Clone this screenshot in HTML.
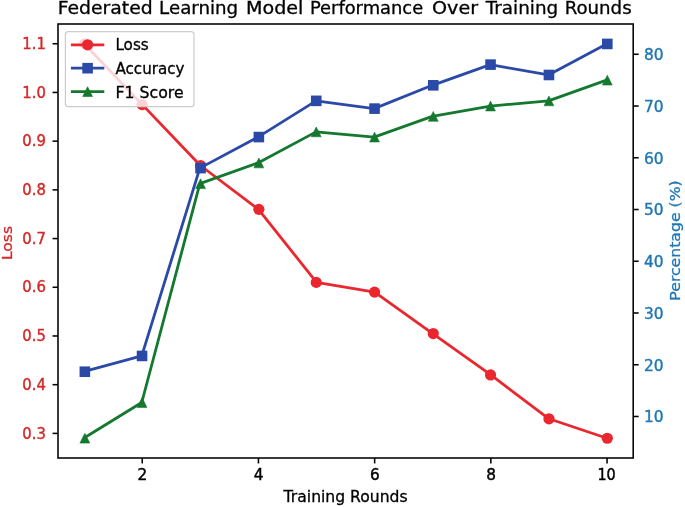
<!DOCTYPE html>
<html lang="en"><head><meta charset="utf-8"><title>Federated Learning Model Performance Over Training Rounds</title>
<style>html,body{margin:0;padding:0;background:#fff;overflow:hidden}svg{display:block;filter:blur(0.25px);font-family:"DejaVu Sans","Liberation Sans",sans-serif}</style></head><body>
<svg width="685" height="507" viewBox="0 0 685 507">
<rect width="685" height="507" fill="#fff"/>
<text x="57.70" y="13.9" font-size="17.5" textLength="95.05" lengthAdjust="spacingAndGlyphs" fill="#000" stroke="#000" stroke-width="0.3">Federated</text>
<text x="159.10" y="13.9" font-size="17.5" textLength="79.10" lengthAdjust="spacingAndGlyphs" fill="#000" stroke="#000" stroke-width="0.3">Learning</text>
<text x="246.10" y="13.9" font-size="17.5" textLength="57.30" lengthAdjust="spacingAndGlyphs" fill="#000" stroke="#000" stroke-width="0.3">Model</text>
<text x="309.90" y="13.9" font-size="17.5" textLength="113.30" lengthAdjust="spacingAndGlyphs" fill="#000" stroke="#000" stroke-width="0.3">Performance</text>
<text x="432.00" y="13.9" font-size="17.5" textLength="46.10" lengthAdjust="spacingAndGlyphs" fill="#000" stroke="#000" stroke-width="0.3">Over</text>
<text x="485.80" y="13.9" font-size="17.5" textLength="72.40" lengthAdjust="spacingAndGlyphs" fill="#000" stroke="#000" stroke-width="0.3">Training</text>
<text x="564.65" y="13.9" font-size="17.5" textLength="67.00" lengthAdjust="spacingAndGlyphs" fill="#000" stroke="#000" stroke-width="0.3">Rounds</text>
<polyline points="84.15,43.73 142.25,104.61 200.35,165.50 258.45,209.34 316.55,282.40 374.65,292.14 432.75,333.55 490.85,374.95 548.95,418.79 607.05,438.27" fill="none" stroke="#ea272e" stroke-width="2.8" stroke-linejoin="round" stroke-linecap="butt"/>
<circle cx="84.85" cy="43.73" r="5.60" fill="#ea272e"/>
<circle cx="142.05" cy="104.61" r="5.60" fill="#ea272e"/>
<circle cx="200.55" cy="165.50" r="5.60" fill="#ea272e"/>
<circle cx="258.85" cy="209.34" r="5.60" fill="#ea272e"/>
<circle cx="316.25" cy="282.40" r="5.60" fill="#ea272e"/>
<circle cx="374.55" cy="292.14" r="5.60" fill="#ea272e"/>
<circle cx="433.25" cy="333.55" r="5.60" fill="#ea272e"/>
<circle cx="490.55" cy="374.95" r="5.60" fill="#ea272e"/>
<circle cx="548.95" cy="418.79" r="5.60" fill="#ea272e"/>
<circle cx="607.30" cy="438.27" r="5.60" fill="#ea272e"/>
<polyline points="83.65,371.72 141.75,355.94 199.85,168.11 257.95,137.07 316.05,100.85 374.15,108.61 432.25,85.32 490.35,64.62 548.45,74.97 606.55,43.93" fill="none" stroke="#2b4aa8" stroke-width="2.8" stroke-linejoin="round" stroke-linecap="butt"/>
<rect x="79.55" y="366.42" width="10.60" height="10.60" fill="#2b4aa8"/>
<rect x="136.75" y="350.64" width="10.60" height="10.60" fill="#2b4aa8"/>
<rect x="195.25" y="162.81" width="10.60" height="10.60" fill="#2b4aa8"/>
<rect x="253.55" y="131.77" width="10.60" height="10.60" fill="#2b4aa8"/>
<rect x="310.95" y="95.55" width="10.60" height="10.60" fill="#2b4aa8"/>
<rect x="369.25" y="103.31" width="10.60" height="10.60" fill="#2b4aa8"/>
<rect x="427.95" y="80.02" width="10.60" height="10.60" fill="#2b4aa8"/>
<rect x="485.25" y="59.32" width="10.60" height="10.60" fill="#2b4aa8"/>
<rect x="543.65" y="69.67" width="10.60" height="10.60" fill="#2b4aa8"/>
<rect x="602.00" y="38.63" width="10.60" height="10.60" fill="#2b4aa8"/>
<polyline points="83.65,438.21 141.75,402.51 199.85,183.64 257.95,162.94 316.05,131.89 374.15,137.07 432.25,116.37 490.35,106.02 548.45,100.85 606.55,80.15" fill="none" stroke="#14782f" stroke-width="2.8" stroke-linejoin="round" stroke-linecap="butt"/>
<polygon points="84.85,433.31 79.95,443.11 89.75,443.11" fill="#14782f" stroke="#14782f" stroke-width="0.6" stroke-linejoin="round"/>
<polygon points="142.05,397.61 137.15,407.41 146.95,407.41" fill="#14782f" stroke="#14782f" stroke-width="0.6" stroke-linejoin="round"/>
<polygon points="200.55,178.74 195.65,188.54 205.45,188.54" fill="#14782f" stroke="#14782f" stroke-width="0.6" stroke-linejoin="round"/>
<polygon points="258.85,158.04 253.95,167.84 263.75,167.84" fill="#14782f" stroke="#14782f" stroke-width="0.6" stroke-linejoin="round"/>
<polygon points="316.25,126.99 311.35,136.79 321.15,136.79" fill="#14782f" stroke="#14782f" stroke-width="0.6" stroke-linejoin="round"/>
<polygon points="374.55,132.17 369.65,141.97 379.45,141.97" fill="#14782f" stroke="#14782f" stroke-width="0.6" stroke-linejoin="round"/>
<polygon points="433.25,111.47 428.35,121.27 438.15,121.27" fill="#14782f" stroke="#14782f" stroke-width="0.6" stroke-linejoin="round"/>
<polygon points="490.55,101.12 485.65,110.92 495.45,110.92" fill="#14782f" stroke="#14782f" stroke-width="0.6" stroke-linejoin="round"/>
<polygon points="548.95,95.95 544.05,105.75 553.85,105.75" fill="#14782f" stroke="#14782f" stroke-width="0.6" stroke-linejoin="round"/>
<polygon points="607.30,75.25 602.40,85.05 612.20,85.05" fill="#14782f" stroke="#14782f" stroke-width="0.6" stroke-linejoin="round"/>
<rect x="58.0" y="24.0" width="575.20" height="434.0" fill="none" stroke="#000" stroke-width="1.55"/>
<line x1="142.25" y1="458.0" x2="142.25" y2="463.45" stroke="#000" stroke-width="1.55"/>
<text x="142.45" y="479.70" font-size="15.0" text-anchor="middle" textLength="9.73" lengthAdjust="spacingAndGlyphs" fill="#000" stroke="#000" stroke-width="0.45">2</text>
<line x1="258.45" y1="458.0" x2="258.45" y2="463.45" stroke="#000" stroke-width="1.55"/>
<text x="258.65" y="479.70" font-size="15.0" text-anchor="middle" textLength="9.73" lengthAdjust="spacingAndGlyphs" fill="#000" stroke="#000" stroke-width="0.45">4</text>
<line x1="374.65" y1="458.0" x2="374.65" y2="463.45" stroke="#000" stroke-width="1.55"/>
<text x="374.85" y="479.70" font-size="15.0" text-anchor="middle" textLength="9.73" lengthAdjust="spacingAndGlyphs" fill="#000" stroke="#000" stroke-width="0.45">6</text>
<line x1="490.85" y1="458.0" x2="490.85" y2="463.45" stroke="#000" stroke-width="1.55"/>
<text x="491.05" y="479.70" font-size="15.0" text-anchor="middle" textLength="9.73" lengthAdjust="spacingAndGlyphs" fill="#000" stroke="#000" stroke-width="0.45">8</text>
<line x1="607.05" y1="458.0" x2="607.05" y2="463.45" stroke="#000" stroke-width="1.55"/>
<text x="606.55" y="479.70" font-size="15.0" text-anchor="middle" textLength="18.32" lengthAdjust="spacingAndGlyphs" fill="#000" stroke="#000" stroke-width="0.45">10</text>
<line x1="58.0" y1="433.40" x2="52.55" y2="433.40" stroke="#000" stroke-width="1.55"/>
<text x="45.90" y="438.60" font-size="15.0" text-anchor="end" textLength="23.53" lengthAdjust="spacingAndGlyphs" fill="#d62728" stroke="#d62728" stroke-width="0.4">0.3</text>
<line x1="58.0" y1="384.69" x2="52.55" y2="384.69" stroke="#000" stroke-width="1.55"/>
<text x="45.90" y="389.89" font-size="15.0" text-anchor="end" textLength="23.53" lengthAdjust="spacingAndGlyphs" fill="#d62728" stroke="#d62728" stroke-width="0.4">0.4</text>
<line x1="58.0" y1="335.98" x2="52.55" y2="335.98" stroke="#000" stroke-width="1.55"/>
<text x="45.90" y="341.18" font-size="15.0" text-anchor="end" textLength="23.53" lengthAdjust="spacingAndGlyphs" fill="#d62728" stroke="#d62728" stroke-width="0.4">0.5</text>
<line x1="58.0" y1="287.27" x2="52.55" y2="287.27" stroke="#000" stroke-width="1.55"/>
<text x="45.90" y="292.47" font-size="15.0" text-anchor="end" textLength="23.53" lengthAdjust="spacingAndGlyphs" fill="#d62728" stroke="#d62728" stroke-width="0.4">0.6</text>
<line x1="58.0" y1="238.56" x2="52.55" y2="238.56" stroke="#000" stroke-width="1.55"/>
<text x="45.90" y="243.76" font-size="15.0" text-anchor="end" textLength="23.53" lengthAdjust="spacingAndGlyphs" fill="#d62728" stroke="#d62728" stroke-width="0.4">0.7</text>
<line x1="58.0" y1="189.86" x2="52.55" y2="189.86" stroke="#000" stroke-width="1.55"/>
<text x="45.90" y="195.06" font-size="15.0" text-anchor="end" textLength="23.53" lengthAdjust="spacingAndGlyphs" fill="#d62728" stroke="#d62728" stroke-width="0.4">0.8</text>
<line x1="58.0" y1="141.15" x2="52.55" y2="141.15" stroke="#000" stroke-width="1.55"/>
<text x="45.90" y="146.35" font-size="15.0" text-anchor="end" textLength="23.53" lengthAdjust="spacingAndGlyphs" fill="#d62728" stroke="#d62728" stroke-width="0.4">0.9</text>
<line x1="58.0" y1="92.44" x2="52.55" y2="92.44" stroke="#000" stroke-width="1.55"/>
<text x="45.90" y="97.64" font-size="15.0" text-anchor="end" textLength="23.53" lengthAdjust="spacingAndGlyphs" fill="#d62728" stroke="#d62728" stroke-width="0.4">1.0</text>
<line x1="58.0" y1="43.73" x2="52.55" y2="43.73" stroke="#000" stroke-width="1.55"/>
<text x="45.90" y="48.93" font-size="15.0" text-anchor="end" textLength="23.53" lengthAdjust="spacingAndGlyphs" fill="#d62728" stroke="#d62728" stroke-width="0.4">1.1</text>
<line x1="633.2" y1="416.48" x2="638.6500000000001" y2="416.48" stroke="#000" stroke-width="1.55"/>
<text x="643.90" y="422.38" font-size="15.0" text-anchor="start" textLength="19.60" lengthAdjust="spacingAndGlyphs" fill="#1f77b4" stroke="#1f77b4" stroke-width="0.4">10</text>
<line x1="633.2" y1="364.74" x2="638.6500000000001" y2="364.74" stroke="#000" stroke-width="1.55"/>
<text x="643.90" y="370.64" font-size="15.0" text-anchor="start" textLength="19.60" lengthAdjust="spacingAndGlyphs" fill="#1f77b4" stroke="#1f77b4" stroke-width="0.4">20</text>
<line x1="633.2" y1="312.99" x2="638.6500000000001" y2="312.99" stroke="#000" stroke-width="1.55"/>
<text x="643.90" y="318.89" font-size="15.0" text-anchor="start" textLength="19.60" lengthAdjust="spacingAndGlyphs" fill="#1f77b4" stroke="#1f77b4" stroke-width="0.4">30</text>
<line x1="633.2" y1="261.25" x2="638.6500000000001" y2="261.25" stroke="#000" stroke-width="1.55"/>
<text x="643.90" y="267.15" font-size="15.0" text-anchor="start" textLength="19.60" lengthAdjust="spacingAndGlyphs" fill="#1f77b4" stroke="#1f77b4" stroke-width="0.4">40</text>
<line x1="633.2" y1="209.51" x2="638.6500000000001" y2="209.51" stroke="#000" stroke-width="1.55"/>
<text x="643.90" y="215.41" font-size="15.0" text-anchor="start" textLength="19.60" lengthAdjust="spacingAndGlyphs" fill="#1f77b4" stroke="#1f77b4" stroke-width="0.4">50</text>
<line x1="633.2" y1="157.76" x2="638.6500000000001" y2="157.76" stroke="#000" stroke-width="1.55"/>
<text x="643.90" y="163.66" font-size="15.0" text-anchor="start" textLength="19.60" lengthAdjust="spacingAndGlyphs" fill="#1f77b4" stroke="#1f77b4" stroke-width="0.4">60</text>
<line x1="633.2" y1="106.02" x2="638.6500000000001" y2="106.02" stroke="#000" stroke-width="1.55"/>
<text x="643.90" y="111.92" font-size="15.0" text-anchor="start" textLength="19.60" lengthAdjust="spacingAndGlyphs" fill="#1f77b4" stroke="#1f77b4" stroke-width="0.4">70</text>
<line x1="633.2" y1="54.28" x2="638.6500000000001" y2="54.28" stroke="#000" stroke-width="1.55"/>
<text x="643.90" y="60.18" font-size="15.0" text-anchor="start" textLength="19.60" lengthAdjust="spacingAndGlyphs" fill="#1f77b4" stroke="#1f77b4" stroke-width="0.4">80</text>
<text x="345.60" y="501.90" font-size="15.4" text-anchor="middle" textLength="124.00" lengthAdjust="spacingAndGlyphs" fill="#000" stroke="#000" stroke-width="0.3">Training Rounds</text>
<text transform="translate(12.00,243.00) rotate(-90)" font-size="14.7" text-anchor="middle" textLength="34.04" lengthAdjust="spacingAndGlyphs" fill="#d62728" stroke="#d62728" stroke-width="0.3">Loss</text>
<text transform="translate(680.20,240.50) rotate(-90)" font-size="14.7" text-anchor="middle" textLength="120.33" lengthAdjust="spacingAndGlyphs" fill="#1f77b4" stroke="#1f77b4" stroke-width="0.3">Percentage (%)</text>
<rect x="65.4" y="31.7" width="128.6" height="75" rx="3" ry="3" fill="#fff" fill-opacity="0.8" stroke="#ccc" stroke-width="1.2"/>
<line x1="70.9" y1="44.8" x2="104.3" y2="44.8" stroke="#ea272e" stroke-width="2.8"/>
<circle cx="87.60" cy="44.80" r="5.60" fill="#ea272e"/>
<text x="115.40" y="50.00" font-size="15.4" text-anchor="start" textLength="33.34" lengthAdjust="spacingAndGlyphs" fill="#000" stroke="#000" stroke-width="0.3">Loss</text>
<line x1="70.9" y1="68.2" x2="104.3" y2="68.2" stroke="#2b4aa8" stroke-width="2.8"/>
<rect x="82.30" y="62.90" width="10.60" height="10.60" fill="#2b4aa8"/>
<text x="115.40" y="74.00" font-size="15.4" text-anchor="start" textLength="69.11" lengthAdjust="spacingAndGlyphs" fill="#000" stroke="#000" stroke-width="0.3">Accuracy</text>
<line x1="70.9" y1="91.6" x2="104.3" y2="91.6" stroke="#14782f" stroke-width="2.8"/>
<polygon points="87.60,86.70 82.70,96.50 92.50,96.50" fill="#14782f" stroke="#14782f" stroke-width="0.6" stroke-linejoin="round"/>
<text x="115.40" y="97.60" font-size="15.4" text-anchor="start" textLength="68.22" lengthAdjust="spacingAndGlyphs" fill="#000" stroke="#000" stroke-width="0.3">F1 Score</text>
</svg></body></html>
